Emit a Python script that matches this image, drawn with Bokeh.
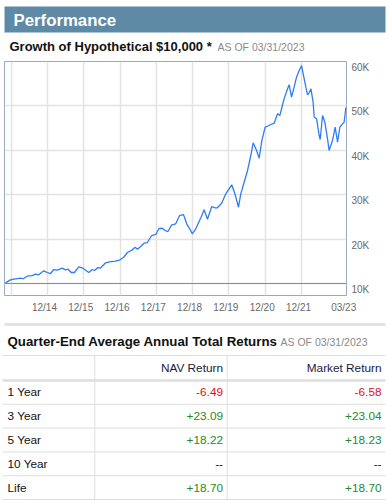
import pandas as pd
from bokeh.plotting import figure
from bokeh.layouts import column
from bokeh.models import Range1d, FixedTicker, DatetimeTickFormatter, Span
from bokeh.core.properties import value
from bokeh.embed import file_html
from bokeh.resources import INLINE

# ---------------- data ----------------
dates = [
    "2013-11-04", "2013-12-24", "2014-02-13", "2014-04-04", "2014-05-01", "2014-06-10",
    "2014-07-30", "2014-09-02", "2014-10-05", "2014-11-24", "2014-12-29", "2015-01-31",
    "2015-03-05", "2015-04-08", "2015-05-28", "2015-07-01", "2015-07-28", "2015-08-27",
    "2015-09-29", "2015-11-11", "2015-12-16", "2016-01-19", "2016-02-21", "2016-03-26",
    "2016-04-18", "2016-05-22", "2016-06-18", "2016-07-05", "2016-08-07", "2016-09-27",
    "2016-11-16", "2016-12-31", "2017-02-08", "2017-03-15", "2017-05-04", "2017-05-31",
    "2017-06-24", "2017-07-27", "2017-08-29", "2017-10-02", "2017-11-14", "2017-12-25",
    "2018-01-27", "2018-03-02", "2018-03-28", "2018-04-27", "2018-06-01", "2018-07-14",
    "2018-08-23", "2018-09-30", "2018-11-02", "2018-12-02", "2018-12-28", "2019-02-01",
    "2019-03-24", "2019-04-26", "2019-05-30", "2019-07-12", "2019-08-14", "2019-09-07",
    "2019-10-20", "2019-11-30", "2020-01-29", "2020-03-03", "2020-04-06", "2020-04-29",
    "2020-06-02", "2020-07-06", "2020-08-08", "2020-09-01", "2020-10-05", "2020-10-31",
    "2020-11-27", "2020-12-30", "2021-01-23", "2021-02-25", "2021-03-31", "2021-05-04",
    "2021-05-27", "2021-06-17", "2021-07-09", "2021-08-13", "2021-08-29", "2021-09-22",
    "2021-10-18", "2021-11-11", "2021-12-08", "2022-01-01", "2022-01-17", "2022-02-13",
    "2022-03-02", "2022-03-18", "2022-04-05", "2022-04-27", "2022-05-08", "2022-06-01",
    "2022-06-27", "2022-07-07", "2022-07-31", "2022-08-23", "2022-09-19", "2022-10-05",
    "2022-11-08", "2022-12-05", "2022-12-29", "2023-01-21", "2023-02-17", "2023-03-05",
    "2023-03-22", "2023-03-31",
]
growth = [
    10150, 10830, 11060, 11190, 11060, 11640,
    11800, 12090, 11960, 12860, 12480, 12250,
    13150, 13000, 13450, 13090, 13220, 12480,
    12480, 13760, 13540, 13000, 12480, 13150,
    12930, 13600, 13450, 13900, 14660, 14950,
    15020, 15340, 15970, 16980, 17590, 18180,
    17720, 18330, 19080, 19230, 20810, 21040,
    22390, 22450, 21940, 21710, 23130, 23440,
    25310, 25540, 23440, 22320, 21190, 22320,
    24800, 26600, 24480, 27340, 27050, 27050,
    28080, 30200, 32230, 30040, 27180, 30200,
    32810, 35450, 38830, 41690, 39950, 38220,
    42200, 45200, 45420, 45810, 46100, 48220,
    47830, 49700, 51590, 53850, 54750, 51960,
    54210, 56460, 57970, 59090, 57230, 54210,
    52500, 52950, 53850, 50830, 47450, 47090,
    43330, 42430, 47830, 46330, 42590, 39950,
    42200, 45200, 41820, 45200, 45960, 46330,
    49480, 49700,
]
x_tick_dates = ["2014-12-01", "2015-12-01", "2016-12-01", "2017-12-01",
                "2018-12-01", "2019-12-01", "2020-12-01", "2021-12-01", "2023-03-01"]
x_grid_dates = ["2014-01-01", "2015-01-01", "2016-01-01", "2017-01-01", "2018-01-01",
                "2019-01-01", "2020-01-01", "2021-01-01", "2022-01-01"]
y_ticks = [10000, 20000, 30000, 40000, 50000, 60000]
y_tick_labels = ["10K", "20K", "30K", "40K", "50K", "60K"]

periods = ["1 Year", "3 Year", "5 Year", "10 Year", "Life"]
nav_return = [-6.49, 23.09, 18.22, None, 18.70]
market_return = [-6.58, 23.04, 18.23, None, 18.70]

# ---------------- helpers ----------------
FONT = "Liberation Sans"
W = 389


def ms(d):
    return float(pd.Timestamp(d).value // 10**6)


def fmt(v):
    if v is None:
        return "--"
    return ("+%.2f" % v) if v > 0 else ("%.2f" % v)


def col_of(v):
    if v is None:
        return "#222222"
    return "#dd1111" if v < 0 else "#2a8a2a"


def blank(height, y_top, y_bottom):
    f = figure(width=W, height=height, x_range=Range1d(0, W), y_range=Range1d(y_bottom, y_top),
               x_axis_location=None, y_axis_location=None, min_border=0,
               toolbar_location=None, output_backend="svg")
    f.frame_align = False
    f.grid.visible = False
    f.outline_line_color = None
    f.background_fill_color = "white"
    f.border_fill_color = "white"
    return f


# ---------------- header ----------------
hdr = blank(55, 0, 55)
hdr.quad(left=4, right=385, top=6, bottom=32, fill_color="#5f8aa5", line_color=None)
hdr.text(x=[13], y=[19.5], text=["Performance"], text_color="white",
         text_font=value(FONT), text_font_style="bold", text_font_size="16.8px",
         text_baseline="middle", text_align="left")
hdr.text(x=[9], y=[46.3], text=["Growth of Hypothetical $10,000 *"], text_color="#111111",
         text_font=value(FONT), text_font_style="bold", text_font_size="13px",
         text_baseline="middle", text_align="left")
hdr.text(x=[217], y=[46.8], text=["AS OF 03/31/2023"], text_color="#8a8a8a",
         text_font=value(FONT), text_font_size="10.5px",
         text_baseline="middle", text_align="left")

# ---------------- chart ----------------
x_dt = pd.to_datetime(dates)
p = figure(width=W, height=263, x_axis_type="datetime", y_axis_location="right",
           x_range=Range1d(pd.Timestamp("2013-10-25"), pd.Timestamp("2023-03-29")),
           y_range=Range1d(7300, 60000),
           min_border_left=4, min_border_right=43, min_border_top=6, min_border_bottom=23,
           toolbar_location=None, output_backend="svg")
p.frame_align = False
p.background_fill_color = "white"
p.border_fill_color = "white"
p.outline_line_color = "#9aa9bd"
p.outline_line_width = 1

p.xgrid.ticker = FixedTicker(ticks=[ms(d) for d in x_grid_dates])
p.ygrid.ticker = FixedTicker(ticks=y_ticks)
p.grid.grid_line_color = "#e2e2e2"
p.grid.grid_line_width = 1.5

p.xaxis.ticker = FixedTicker(ticks=[ms(d) for d in x_tick_dates])
p.xaxis.formatter = DatetimeTickFormatter(
    microseconds="%m/%y", milliseconds="%m/%y", seconds="%m/%y", minsec="%m/%y",
    minutes="%m/%y", hourmin="%m/%y", hours="%m/%y", days="%m/%y",
    months="%m/%y", years="%m/%y")

label_shift = 1350  # labels sit just below their grid line
p.yaxis.ticker = FixedTicker(ticks=[t - label_shift for t in y_ticks])
p.yaxis.major_label_overrides = {t - label_shift: lab for t, lab in zip(y_ticks, y_tick_labels)}

for ax in (p.xaxis[0], p.yaxis[0]):
    ax.axis_line_color = None
    ax.major_tick_line_color = None
    ax.minor_tick_line_color = None
    ax.major_tick_out = 0
    ax.major_tick_in = 0
    ax.minor_tick_out = 0
    ax.minor_tick_in = 0
    ax.major_label_text_color = "#6a6a6a"
    ax.major_label_text_font = FONT
    ax.major_label_text_font_size = "10px"
p.xaxis.major_label_standoff = 6
p.yaxis.major_label_standoff = 5

p.add_layout(Span(location=10000, dimension="width", line_color="#8c8c8c", line_width=1))
p.line(x=x_dt, y=growth, line_color="#2f7cf6", line_width=1.3)

# ---------------- table ----------------
tb = blank(186, 318, 504)
tb.segment(x0=[4], y0=[324], x1=[385], y1=[324], line_color="#e3e3e3", line_width=3)
tb.text(x=[7], y=[341], text=["Quarter-End Average Annual Total Returns"], text_color="#111111",
        text_font=value(FONT), text_font_style="bold", text_font_size="13.3px",
        text_baseline="middle", text_align="left")
tb.text(x=[280], y=[341.8], text=["AS OF 03/31/2023"], text_color="#8a8a8a",
        text_font=value(FONT), text_font_size="10.5px",
        text_baseline="middle", text_align="left")

top_y, head_y, row_h = 355, 380, 23.8
row_lines = [head_y + row_h * (i + 1) for i in range(len(periods))]
tb.segment(x0=[2], y0=[top_y], x1=[385], y1=[top_y], line_color="#dedede", line_width=1)
tb.segment(x0=[2], y0=[head_y], x1=[385], y1=[head_y], line_color="#dedede", line_width=2.5)
tb.segment(x0=[2] * len(row_lines), y0=row_lines, x1=[385] * len(row_lines), y1=row_lines,
           line_color="#dedede", line_width=1)
tb.segment(x0=[94.3, 226.7], y0=[top_y, top_y], x1=[94.3, 226.7], y1=[row_lines[-1]] * 2,
           line_color="#dedede", line_width=1)

hy = (top_y + head_y) / 2
tb.text(x=[222.5, 381], y=[hy, hy], text=["NAV Return", "Market Return"], text_color="#1a1a3a",
        text_font=value(FONT), text_font_size="11.8px", text_baseline="middle", text_align="right")

ry = [head_y + row_h * (i + 0.5) for i in range(len(periods))]
tb.text(x=[7] * len(periods), y=ry, text=periods, text_color="#111111",
        text_font=value(FONT), text_font_size="11.8px", text_baseline="middle", text_align="left")
tb.text(x=[222.5] * len(periods), y=ry, text=[fmt(v) for v in nav_return],
        text_color=[col_of(v) for v in nav_return],
        text_font=value(FONT), text_font_size="11.8px", text_baseline="middle", text_align="right")
tb.text(x=[381] * len(periods), y=ry, text=[fmt(v) for v in market_return],
        text_color=[col_of(v) for v in market_return],
        text_font=value(FONT), text_font_size="11.8px", text_baseline="middle", text_align="right")

layout = column(hdr, p, tb, spacing=0)
open("out.html", "w").write(file_html(layout, INLINE))
